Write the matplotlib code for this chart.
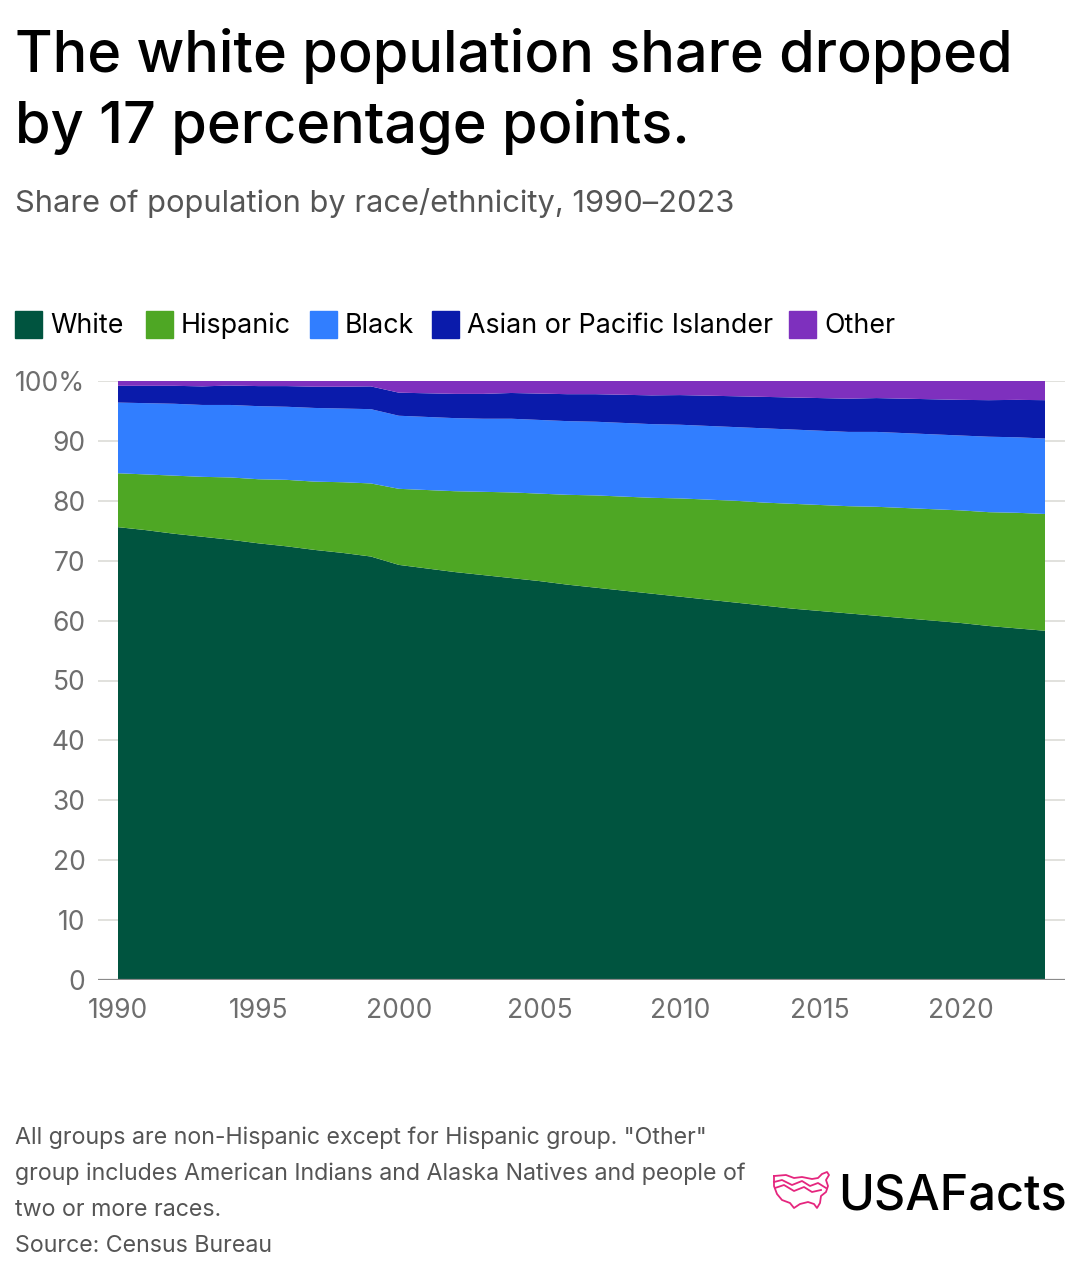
import numpy as np
import matplotlib.pyplot as plt
from matplotlib.patches import Rectangle

# data (percent of population)
years = list(range(1990, 2024))
white = [75.6, 75.1, 74.5, 74.0, 73.5, 72.9, 72.4, 71.8, 71.3, 70.7,
         69.3, 68.7, 68.1, 67.6, 67.1, 66.6, 66.0, 65.5, 65.0, 64.5,
         64.0, 63.5, 63.0, 62.5, 62.0, 61.6, 61.2, 60.8, 60.4, 60.0,
         59.6, 59.1, 58.7, 58.3]
hispanic = [9.0, 9.3, 9.7, 10.0, 10.4, 10.7, 11.1, 11.4, 11.8, 12.2,
            12.7, 13.1, 13.5, 13.9, 14.3, 14.6, 15.0, 15.4, 15.7, 16.0,
            16.4, 16.7, 17.0, 17.2, 17.5, 17.7, 17.9, 18.2, 18.4, 18.6,
            18.8, 19.0, 19.3, 19.5]
black = [11.8, 11.9, 12.0, 12.0, 12.1, 12.2, 12.2, 12.3, 12.3, 12.4,
         12.2, 12.2, 12.2, 12.2, 12.3, 12.3, 12.3, 12.3, 12.3, 12.3,
         12.3, 12.3, 12.3, 12.4, 12.4, 12.4, 12.4, 12.5, 12.5, 12.5,
         12.5, 12.6, 12.6, 12.6]
asian = [2.8, 2.9, 3.0, 3.1, 3.25, 3.35, 3.45, 3.55, 3.65, 3.8,
         3.85, 3.95, 4.05, 4.15, 4.3, 4.4, 4.5, 4.6, 4.7, 4.8,
         4.95, 5.05, 5.15, 5.25, 5.35, 5.45, 5.55, 5.65, 5.75, 5.85,
         5.95, 6.1, 6.25, 6.4]
other = [0.8, 0.8, 0.8, 0.9, 0.75, 0.85, 0.85, 0.95, 0.95, 0.9,
         1.95, 2.05, 2.15, 2.15, 2.0, 2.1, 2.2, 2.2, 2.3, 2.4,
         2.35, 2.45, 2.55, 2.65, 2.75, 2.85, 2.95, 2.85, 2.95, 3.05,
         3.15, 3.2, 3.15, 3.2]

labels = ['White', 'Hispanic', 'Black', 'Asian or Pacific Islander', 'Other']
colors = ['#00543F', '#4EA724', '#317EFF', '#0A1BAB', '#7E30BE']
yticks = [0, 10, 20, 30, 40, 50, 60, 70, 80, 90, 100]
ytick_labels = ['0', '10', '20', '30', '40', '50', '60', '70', '80', '90', '100%']
xticks = [1990, 1995, 2000, 2005, 2010, 2015, 2020]

plt.rcParams['font.family'] = ['Inter', 'DejaVu Sans']

W, H = 1080, 1280
fig = plt.figure(figsize=(W / 100, H / 100), dpi=100)

def fx(px):
    return px / W

def fy(py):
    return 1 - py / H

# plot area: left 98px, right 1065px, top 381px, bottom 980px
ax = fig.add_axes([fx(98), fy(980), fx(1065 - 98), (980 - 381) / H])
ax.stackplot(years, white, hispanic, black, asian, other, colors=colors,
             linewidth=0, zorder=2)
ax.set_xlim(1990 - 20 / 28.09, 2023 + 20 / 28.09)
ax.set_ylim(0, 100)
ax.set_yticks(yticks)
ax.set_yticklabels(ytick_labels)
ax.set_xticks(xticks)
ax.grid(axis='y', color='#DCDCD7', linewidth=1.2, zorder=0)
ax.axhline(0, color='#8A8A8A', linewidth=1.6, zorder=3)
for s in ax.spines.values():
    s.set_visible(False)
ax.tick_params(length=0, labelsize=19, labelcolor='#6E6E6E')
ax.tick_params(axis='y', pad=9)
ax.tick_params(axis='x', pad=13)

# title and subtitle
fig.text(fx(15), fy(72), 'The white population share dropped', fontsize=41.5,
         fontweight='medium', color='black', va='baseline')
fig.text(fx(15), fy(143), 'by 17 percentage points.', fontsize=41.5,
         fontweight='medium', color='black', va='baseline')
fig.text(fx(15), fy(212), 'Share of population by race/ethnicity, 1990\u20132023',
         fontsize=22.2, color='#555555', va='baseline')

# legend
leg_x = [15, 146, 310, 432, 789]
for x0, lab, c in zip(leg_x, labels, colors):
    fig.patches.append(Rectangle((fx(x0), fy(338)), fx(27), 27 / H,
                                 transform=fig.transFigure, color=c))
    fig.text(fx(x0 + 35), fy(333), lab, fontsize=19.3, color='black',
             va='baseline')

# footer
notes = ['All groups are non-Hispanic except for Hispanic group. "Other"',
         'group includes American Indians and Alaska Natives and people of',
         'two or more races.',
         'Source: Census Bureau']
for i, line in enumerate(notes):
    fig.text(fx(15), fy(1144 + 36 * i), line, fontsize=16.7, color='#555555',
             va='baseline')

# logo
fig.text(fx(838), fy(1210), 'USAFacts', fontsize=35, fontweight='medium',
         color='black', va='baseline')
lax = fig.add_axes([fx(772), fy(1212), fx(60), 44 / H])
lax.set_xlim(0, 60)
lax.set_ylim(0, 44)
lax.axis('off')
outline = [(2, 36), (14, 37), (22, 34), (30, 35), (40, 33), (46, 34), (50, 38),
           (55, 40), (57, 37), (54, 32), (56, 26), (54, 20), (49, 16), (48, 9),
           (45, 4), (42, 8), (36, 10), (28, 8), (22, 4), (18, 9), (10, 12),
           (5, 18), (2, 26), (2, 36)]
ox, oy = zip(*outline)
lax.plot(ox, oy, color='#E5267E', linewidth=1.3)
lax.plot([2, 10, 20, 30, 38, 46, 54], [30, 32, 27, 31, 26, 29, 24],
         color='#E5267E', linewidth=1.3)
lax.plot([3, 12, 22, 32, 40, 49], [24, 27, 21, 25, 20, 22],
         color='#E5267E', linewidth=1.3)

fig.savefig('out.png', dpi=100)
